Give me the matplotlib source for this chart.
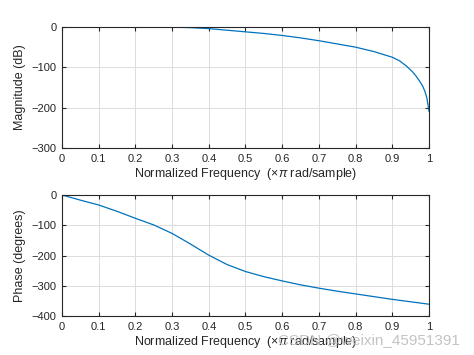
import matplotlib
matplotlib.use("Agg")
import matplotlib.pyplot as plt

# normalized frequency (x pi rad/sample)
mag_freq = [0, 0.1, 0.2, 0.3, 0.35, 0.4, 0.45, 0.5, 0.55, 0.6, 0.65, 0.7, 0.75, 0.8,
            0.85, 0.9, 0.92, 0.94, 0.955, 0.965, 0.975, 0.983, 0.989, 0.994,
            0.998, 1.0]
mag_db = [0, 0, 0, -0.5, -1.5, -4, -8, -12, -16, -21, -27, -34, -42, -50,
          -61, -75, -84, -98, -111, -122, -135, -147, -160, -175,
          -197, -209]

phase_freq = [0, 0.05, 0.1, 0.15, 0.2, 0.25, 0.3, 0.35, 0.4, 0.45, 0.5, 0.55, 0.6,
              0.65, 0.7, 0.75, 0.8, 0.85, 0.9, 0.95, 1.0]
phase_deg = [0, -17, -33, -54, -77, -99, -127, -162, -199, -230, -253, -270, -284,
             -297, -308, -318, -327, -336, -345, -353, -361]

xticks = [0, 0.1, 0.2, 0.3, 0.4, 0.5, 0.6, 0.7, 0.8, 0.9, 1]
xticklabels = ["0", "0.1", "0.2", "0.3", "0.4", "0.5", "0.6", "0.7", "0.8", "0.9", "1"]
mag_yticks = [-300, -200, -100, 0]
phase_yticks = [-400, -300, -200, -100, 0]

xlabel = "Normalized Frequency  ($\\times\\pi$ rad/sample)"

plt.rcParams["font.family"] = ["Liberation Sans", "DejaVu Sans"]
plt.rcParams["mathtext.fontset"] = "custom"
plt.rcParams["mathtext.rm"] = "Liberation Sans"
plt.rcParams["mathtext.it"] = "Liberation Sans:italic"

fig = plt.figure(figsize=(4.74, 3.55), dpi=100)
ax1 = fig.add_axes([62 / 474, 1 - 148 / 355, 367 / 474, 121 / 355])
ax2 = fig.add_axes([62 / 474, 1 - 316 / 355, 367 / 474, 121 / 355])

line_color = "#0072BD"
spine_color = "#262626"

for ax in (ax1, ax2):
    ax.set_xlim(0, 1)
    ax.set_xticks(xticks)
    ax.set_xticklabels(xticklabels)
    ax.grid(True, color="#dcdcdc", linewidth=0.7)
    ax.set_axisbelow(True)
    ax.tick_params(direction="in", top=True, right=True, length=3,
                   labelsize=8, colors=spine_color, pad=4)
    for s in ax.spines.values():
        s.set_color(spine_color)
        s.set_linewidth(0.8)
    ax.set_xlabel(xlabel, fontsize=9, color=spine_color, labelpad=2)

ax1.plot(mag_freq, mag_db, color=line_color, linewidth=0.9)
ax1.set_ylim(-300, 0)
ax1.set_yticks(mag_yticks)
ax1.set_ylabel("Magnitude (dB)", fontsize=9, color=spine_color)

ax2.plot(phase_freq, phase_deg, color=line_color, linewidth=0.9)
ax2.set_ylim(-400, 0)
ax2.set_yticks(phase_yticks)
ax2.set_ylabel("Phase (degrees)", fontsize=9, color=spine_color)

# watermark, overlaps the x label just like in the reference
fig.text(460 / 474, 1 - 340 / 355, "CSDN @weixin_45951391", ha="right", va="center",
         fontsize=11, color="#bdbdbd", alpha=0.9)

fig.savefig("out.png", dpi=100)
